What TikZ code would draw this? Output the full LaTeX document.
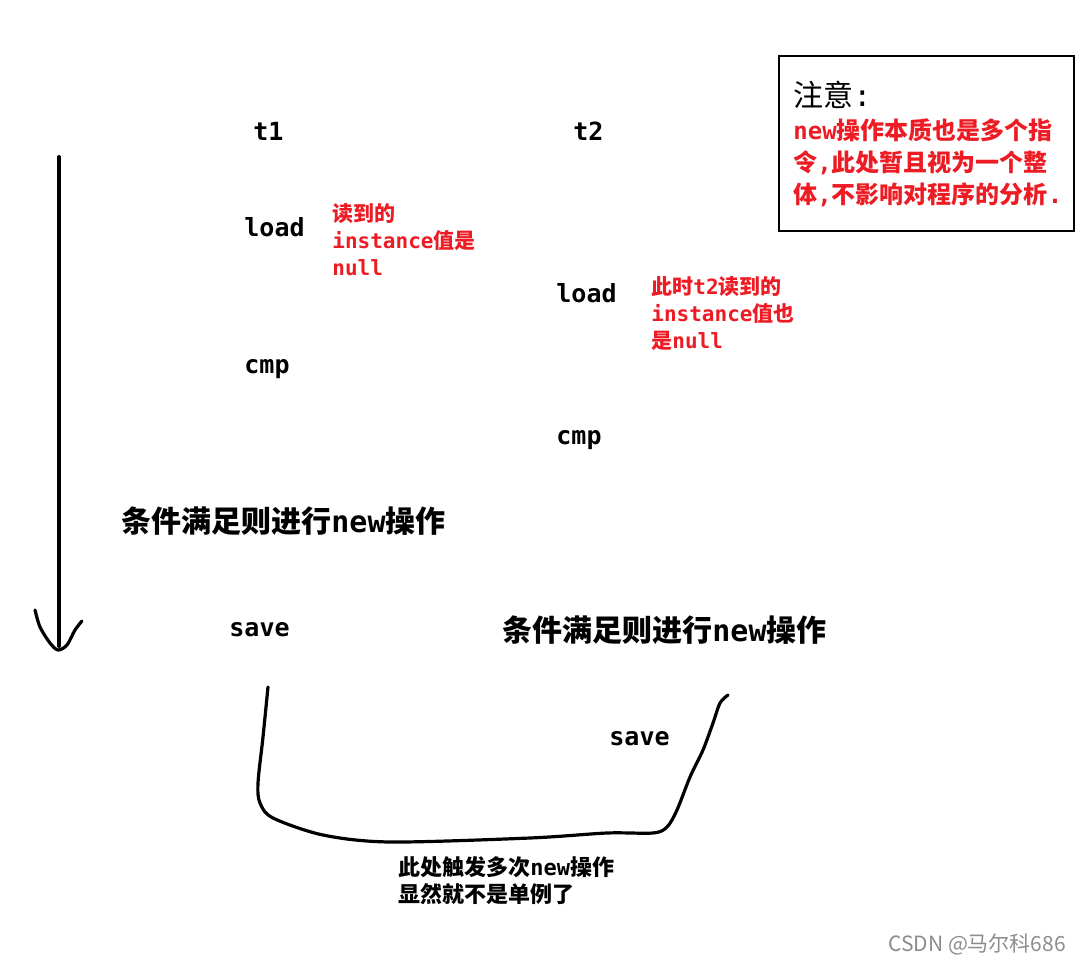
\documentclass[tikz,border=0pt]{standalone}
\usepackage{fontspec}
\setmainfont{Noto Sans CJK SC}
\newfontfamily\lat{DejaVu Sans Mono}
\definecolor{notered}{RGB}{237,28,36}
\tikzset{
  op/.style={anchor=west,inner sep=0pt,font=\lat\bfseries\fontsize{12.5pt}{15pt}\selectfont},
  note/.style={anchor=north west,inner sep=0pt,align=left,text=notered,
    font=\bfseries\fontsize{10.5pt}{13.5pt}\selectfont},
  cond/.style={anchor=west,inner sep=0pt,font=\bfseries\fontsize{15pt}{18pt}\selectfont},
  pen/.style={line width=1.6pt,line cap=round,line join=round},
}
\begin{document}
\begin{tikzpicture}[x=0.5pt,y=-0.5pt]
\useasboundingbox (0,0) rectangle (1081,963);

% time axis
\draw[pen,line width=2pt] (59,157) -- (59,646);
\draw[pen] plot[smooth] coordinates {(35,610) (40,627) (50,643) (58,650) (67,645) (75,630) (82,621)};

% thread t1
\node[op] (t1) at (253,131) {t1};
\node[op] (load1) at (244,227) {load};
\node[note] (n1) at (332,203) {读到的\\{\lat instance}值是\\{\lat null}};
\node[op] (cmp1) at (244,369) {cmp};
\node[cond] (new1) at (121,521) {条件满足则进行{\lat new}操作};
\node[op] (save1) at (229,630) {save};

% thread t2
\node[op] (t2) at (573,131) {t2};
\node[op] (load2) at (556,293) {load};
\node[note] (n2) at (651,276) {此时{\lat t2}读到的\\{\lat instance}值也\\是{\lat null}};
\node[op] (cmp2) at (556,440) {cmp};
\node[cond] (new2) at (502,630) {条件满足则进行{\lat new}操作};
\node[op] (save2) at (609,739) {save};

% both saves
\draw[pen] plot[smooth] coordinates {(268,687) (263,737) (258,783) (260,803) (273,818)
  (323,835) (390,842) (530,838) (607,833) (653,833) (667,827) (677,810) (690,777)
  (703,750) (713,723) (720,703) (728,695)};
\node[anchor=north west,align=left,inner sep=0pt,font=\bfseries\fontsize{11pt}{13.5pt}\selectfont]
  (dup) at (398,856) {此处触发多次{\lat new}操作\\显然就不是单例了};

% remark box
\draw[line width=0.75pt] (779,56) rectangle (1074,231);
\node[anchor=west,inner sep=0pt,font=\fontsize{15pt}{18pt}\selectfont] (tip) at (793,95) {注意{\lat :}};
\node[note,font=\bfseries\fontsize{12pt}{16pt}\selectfont] (tipbody) at (793,118)
  {{\lat new}操作本质也是多个指\\令{\lat ,}此处暂且视为一个整\\体{\lat ,}不影响对程序的分析{\lat .}};

% watermark
\node[anchor=west,inner sep=0pt,text=black!45,font=\fontsize{10.5pt}{12pt}\selectfont] (mark) at (888,944) {CSDN @马尔科686};
\end{tikzpicture}
\end{document}
